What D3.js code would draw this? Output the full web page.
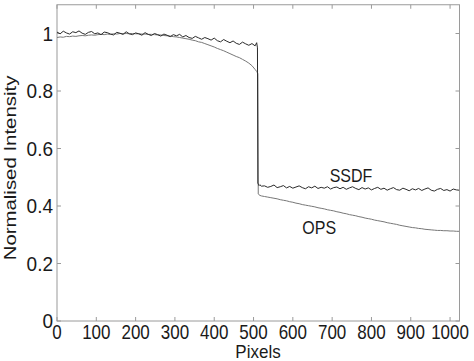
<!DOCTYPE html>
<html><head><meta charset="utf-8">
<script src="https://cdn.jsdelivr.net/npm/d3@7"></script>
<style>body{margin:0;background:#fff}svg{display:block}text{font-family:"Liberation Sans",Arial,sans-serif;fill:#1a1a1a}</style>
</head><body><svg id="c" width="474" height="361"></svg>
<script>
const xTicks = [0,100,200,300,400,500,600,700,800,900,1000];
const yTicks = [0,0.2,0.4,0.6,0.8,1];
const yTickLabels = ["0","0.2","0.4","0.6","0.8","1"];
const pixels = [
0,8,16,24,32,40,48,56, 64,72,80,88,96,104,112,120, 128,136,144,152,160,168,176,184, 192,200,208,216,224,232,240,248,
256,264,272,280,288,296,304,312, 320,328,336,344,352,360,368,376, 384,392,400,408,416,424,432,440, 448,456,464,472,480,488,496,504,
508,510,511,512,514,516,520,
528,536,544,552,560,568,576,584, 592,600,608,616,624,632,640,648, 656,664,672,680,688,696,704,712, 720,728,736,744,752,760,768,776,
784,792,800,808,816,824,832,840, 848,856,864,872,880,888,896,904, 912,920,928,936,944,952,960,968, 976,984,992,1000,1008,1016, 1023];
const ssdf = [
1.005,0.999,1.008,1.002,0.998,1.006,1.003,1.009, 1.001,0.997,1.004,1.007,0.999,1.002,0.996,1.005,
1.003,0.998,0.995,1.004,1.001,0.997,1.006,0.999, 0.996,1.002,0.999,0.994,1.003,0.997,0.993,1.000,
0.996,0.991,0.998,0.994,0.989,0.996,0.992,0.997, 0.988,0.993,0.986,0.983,0.990,0.985,0.980,0.986,
0.982,0.977,0.984,0.975,0.971,0.979,0.973,0.968, 0.974,0.966,0.962,0.970,0.964,0.959,0.965,0.957,
0.968,0.950,0.480,0.476,0.471,0.474,0.469,
0.470,0.465,0.468,0.473,0.464,0.467,0.471,0.463, 0.468,0.462,0.466,0.470,0.464,0.460,0.467,0.463,
0.469,0.461,0.465,0.462,0.467,0.459,0.464,0.466, 0.460,0.465,0.458,0.463,0.467,0.461,0.457,0.464,
0.459,0.463,0.456,0.461,0.465,0.458,0.462,0.455, 0.460,0.464,0.457,0.455,0.462,0.458,0.453,0.460,
0.456,0.461,0.454,0.459,0.463,0.455,0.452,0.458, 0.461,0.454,0.457,0.452,0.459,0.456, 0.455];
const ops = [
0.986,0.988,0.987,0.990,0.989,0.991,0.990,0.992, 0.993,0.992,0.994,0.995,0.994,0.996,0.997,0.996,
0.998,0.997,0.999,0.998,1.000,0.999,1.000,0.999, 1.000,0.999,0.999,0.998,0.998,0.997,0.997,0.996,
0.995,0.995,0.993,0.992,0.991,0.989,0.988,0.986, 0.984,0.982,0.980,0.977,0.975,0.971,0.969,0.965,
0.961,0.957,0.953,0.948,0.944,0.940,0.935,0.930, 0.925,0.920,0.916,0.910,0.904,0.897,0.888,0.875,
0.868,0.863,0.860,0.442,0.439,0.437,0.435,
0.433,0.431,0.429,0.427,0.425,0.422,0.420,0.418, 0.415,0.413,0.410,0.408,0.405,0.403,0.401,0.399,
0.397,0.394,0.392,0.390,0.387,0.385,0.383,0.380, 0.378,0.375,0.373,0.370,0.368,0.366,0.363,0.361,
0.358,0.356,0.354,0.351,0.349,0.347,0.345,0.342, 0.340,0.338,0.336,0.333,0.331,0.329,0.327,0.325,
0.324,0.322,0.321,0.319,0.318,0.317,0.316,0.315, 0.315,0.314,0.314,0.313,0.313,0.312, 0.312];
const seriesLabels = [{name:"SSDF", px:748, v:0.483}, {name:"OPS", px:667, v:0.302}];

const svg = d3.select("#c");
const x = d3.scaleLinear().domain([0,1024]).range([57,459.5]);
const y = d3.scaleLinear().domain([0,1.1]).range([321,4.75]);
const axisCol = "#9a9a9a";

// box
svg.append("rect").attr("x",x(0)).attr("y",y(1.1)).attr("width",x(1024)-x(0)).attr("height",y(0)-y(1.1))
  .attr("fill","none").attr("stroke",axisCol).attr("stroke-width",1);

// ticks inward
const tl = 4;
const g = svg.append("g").attr("stroke",axisCol).attr("stroke-width",1);
xTicks.forEach(t=>{
  g.append("line").attr("x1",x(t)).attr("x2",x(t)).attr("y1",y(0)).attr("y2",y(0)-tl);
  g.append("line").attr("x1",x(t)).attr("x2",x(t)).attr("y1",y(1.1)).attr("y2",y(1.1)+tl);
});
yTicks.forEach(t=>{
  g.append("line").attr("x1",x(0)).attr("x2",x(0)+tl).attr("y1",y(t)).attr("y2",y(t));
  g.append("line").attr("x1",x(1024)).attr("x2",x(1024)-tl).attr("y1",y(t)).attr("y2",y(t));
});

// tick labels
xTicks.forEach(t=>{
  svg.append("text").attr("transform",`translate(${x(t)},339) scale(1,1.2)`)
    .attr("text-anchor","middle").attr("font-size",17).text(t);
});
yTicks.forEach((t,i)=>{
  svg.append("text").attr("transform",`translate(53,${y(t)+7}) scale(1,1.05)`)
    .attr("text-anchor","end").attr("font-size",19).text(yTickLabels[i]);
});

// axis labels
svg.append("text").attr("transform","translate(258,358) scale(1,1.1)")
  .attr("text-anchor","middle").attr("font-size",17).text("Pixels");
svg.append("text").attr("transform","translate(16,168) rotate(-90) scale(1.2,1)")
  .attr("text-anchor","middle").attr("font-size",17).text("Normalised Intensity");

// lines
const line = d3.line().x(d=>x(d[0])).y(d=>y(d[1]));
svg.append("path").datum(pixels.map((p,i)=>[p,ops[i]])).attr("d",line)
  .attr("fill","none").attr("stroke","#777").attr("stroke-width",1);
svg.append("path").datum(pixels.map((p,i)=>[p,ssdf[i]])).attr("d",line)
  .attr("fill","none").attr("stroke","#2a2a2a").attr("stroke-width",1);

// series labels
seriesLabels.forEach(s=>{
  svg.append("text").attr("transform",`translate(${x(s.px)},${y(s.v)}) scale(1,1.12)`)
    .attr("text-anchor","middle").attr("font-size",16).text(s.name);
});
</script></body></html>
